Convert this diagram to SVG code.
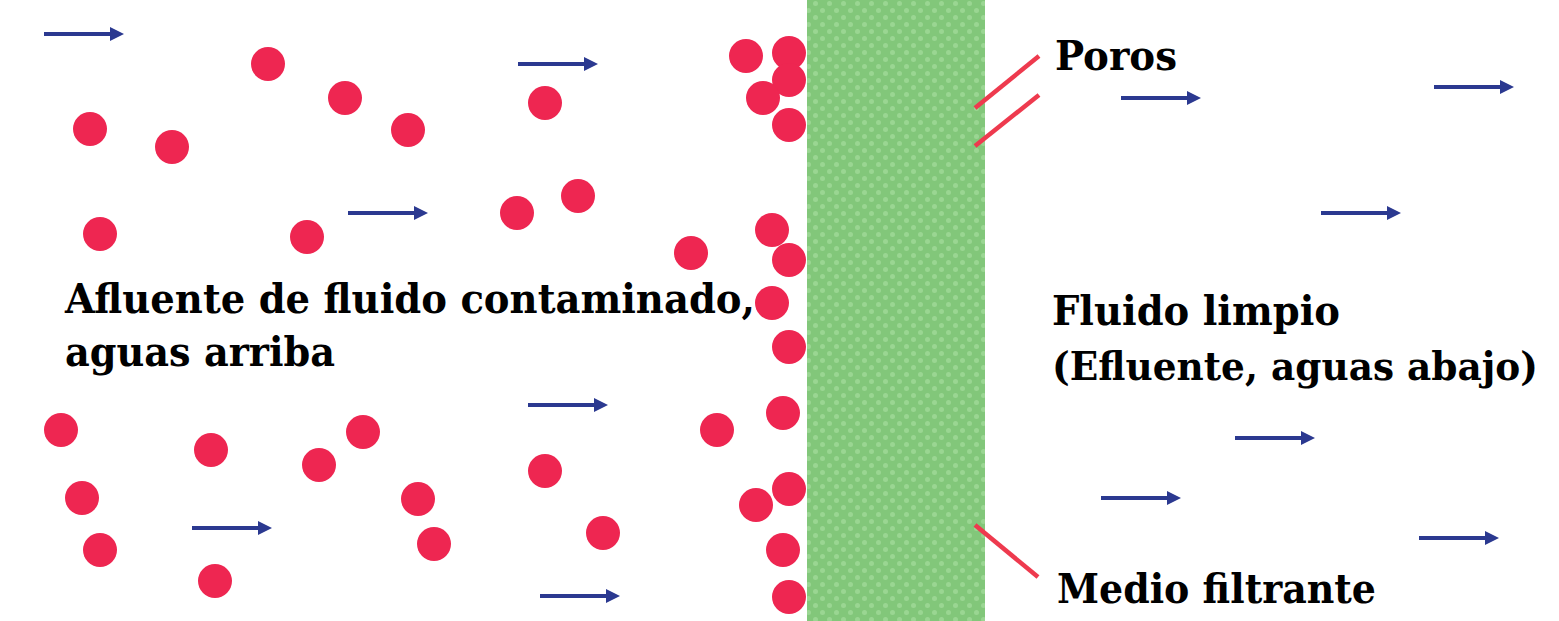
<svg xmlns="http://www.w3.org/2000/svg" width="1559" height="621" viewBox="0 0 1559 621">
<defs>
<style>
.p{fill:#ee2651}
.a{stroke:#2b3990;stroke-width:4;fill:none}
.h{fill:#2b3990}
.r{stroke:#ee3a4e;stroke-width:4.5}
.t{font-family:"DejaVu Serif","Liberation Serif",serif;font-weight:bold;font-size:41px;fill:#000}
.s{font-size:39px}
</style>
<pattern id="dots" width="14" height="14" patternUnits="userSpaceOnUse">
<rect width="14" height="14" fill="#82c77a"/>
<circle cx="3.5" cy="3.5" r="2.5" fill="#9ad692"/>
<circle cx="10.5" cy="10.5" r="2.5" fill="#9ad692"/>
</pattern>
<marker id="ah" markerWidth="14" markerHeight="14" refX="0" refY="7" orient="auto" markerUnits="userSpaceOnUse">
<path d="M0,0 L14,7 L0,14 Z" class="h"/>
</marker>
</defs>
<rect width="1559" height="621" fill="#fff"/>
<g id="particles">
<circle class="p" cx="268" cy="64" r="17"/><circle class="p" cx="345" cy="98" r="17"/>
<circle class="p" cx="90" cy="129" r="17"/><circle class="p" cx="172" cy="147" r="17"/>
<circle class="p" cx="408" cy="130" r="17"/><circle class="p" cx="545" cy="103" r="17"/>
<circle class="p" cx="746" cy="56" r="17"/><circle class="p" cx="789" cy="53" r="17"/>
<circle class="p" cx="789" cy="80" r="17"/><circle class="p" cx="763" cy="98" r="17"/>
<circle class="p" cx="789" cy="125" r="17"/><circle class="p" cx="100" cy="234" r="17"/>
<circle class="p" cx="307" cy="237" r="17"/><circle class="p" cx="517" cy="213" r="17"/>
<circle class="p" cx="578" cy="196" r="17"/><circle class="p" cx="772" cy="230" r="17"/>
<circle class="p" cx="691" cy="253" r="17"/><circle class="p" cx="789" cy="260" r="17"/>
<circle class="p" cx="772" cy="303" r="17"/><circle class="p" cx="789" cy="347" r="17"/>
<circle class="p" cx="783" cy="413" r="17"/><circle class="p" cx="717" cy="430" r="17"/>
<circle class="p" cx="61" cy="430" r="17"/><circle class="p" cx="211" cy="450" r="17"/>
<circle class="p" cx="363" cy="432" r="17"/><circle class="p" cx="319" cy="465" r="17"/>
<circle class="p" cx="82" cy="498" r="17"/><circle class="p" cx="418" cy="499" r="17"/>
<circle class="p" cx="545" cy="471" r="17"/><circle class="p" cx="100" cy="550" r="17"/>
<circle class="p" cx="434" cy="544" r="17"/><circle class="p" cx="603" cy="533" r="17"/>
<circle class="p" cx="215" cy="581" r="17"/><circle class="p" cx="789" cy="489" r="17"/>
<circle class="p" cx="756" cy="505" r="17"/><circle class="p" cx="783" cy="550" r="17"/>
<circle class="p" cx="789" cy="597" r="17"/>
</g>
<g id="filter-medium">
<rect x="807" y="0" width="178" height="621" fill="url(#dots)"/>
</g>
<g id="connectors">
<line class="a" x1="44" y1="34" x2="110" y2="34" marker-end="url(#ah)"/>
<line class="a" x1="518" y1="64" x2="584" y2="64" marker-end="url(#ah)"/>
<line class="a" x1="348" y1="213" x2="414" y2="213" marker-end="url(#ah)"/>
<line class="a" x1="528" y1="405" x2="594" y2="405" marker-end="url(#ah)"/>
<line class="a" x1="192" y1="528" x2="258" y2="528" marker-end="url(#ah)"/>
<line class="a" x1="540" y1="596" x2="606" y2="596" marker-end="url(#ah)"/>
<line class="a" x1="1121" y1="98" x2="1187" y2="98" marker-end="url(#ah)"/>
<line class="a" x1="1434" y1="87" x2="1500" y2="87" marker-end="url(#ah)"/>
<line class="a" x1="1321" y1="213" x2="1387" y2="213" marker-end="url(#ah)"/>
<line class="a" x1="1235" y1="438" x2="1301" y2="438" marker-end="url(#ah)"/>
<line class="a" x1="1101" y1="498" x2="1167" y2="498" marker-end="url(#ah)"/>
<line class="a" x1="1419" y1="538" x2="1485" y2="538" marker-end="url(#ah)"/>
<line class="r" x1="975" y1="108" x2="1039" y2="56"/>
<line class="r" x1="975" y1="146" x2="1039" y2="95"/>
<line class="r" x1="975" y1="525" x2="1038" y2="577"/>
</g>
<g id="labels">
<text class="t" x="65" y="313" textLength="690" lengthAdjust="spacingAndGlyphs">Afluente de fluido contaminado,</text>
<text class="t" x="65" y="366" textLength="270" lengthAdjust="spacingAndGlyphs">aguas arriba</text>
<text class="t" x="1052" y="325" textLength="288" lengthAdjust="spacingAndGlyphs">Fluido limpio</text>
<text class="t s" x="1052" y="380" textLength="486" lengthAdjust="spacingAndGlyphs">(Efluente, aguas abajo)</text>
<text class="t" x="1055" y="70" textLength="122" lengthAdjust="spacingAndGlyphs">Poros</text>
<text class="t" x="1057" y="603" textLength="319" lengthAdjust="spacingAndGlyphs">Medio filtrante</text>
</g>
</svg>
